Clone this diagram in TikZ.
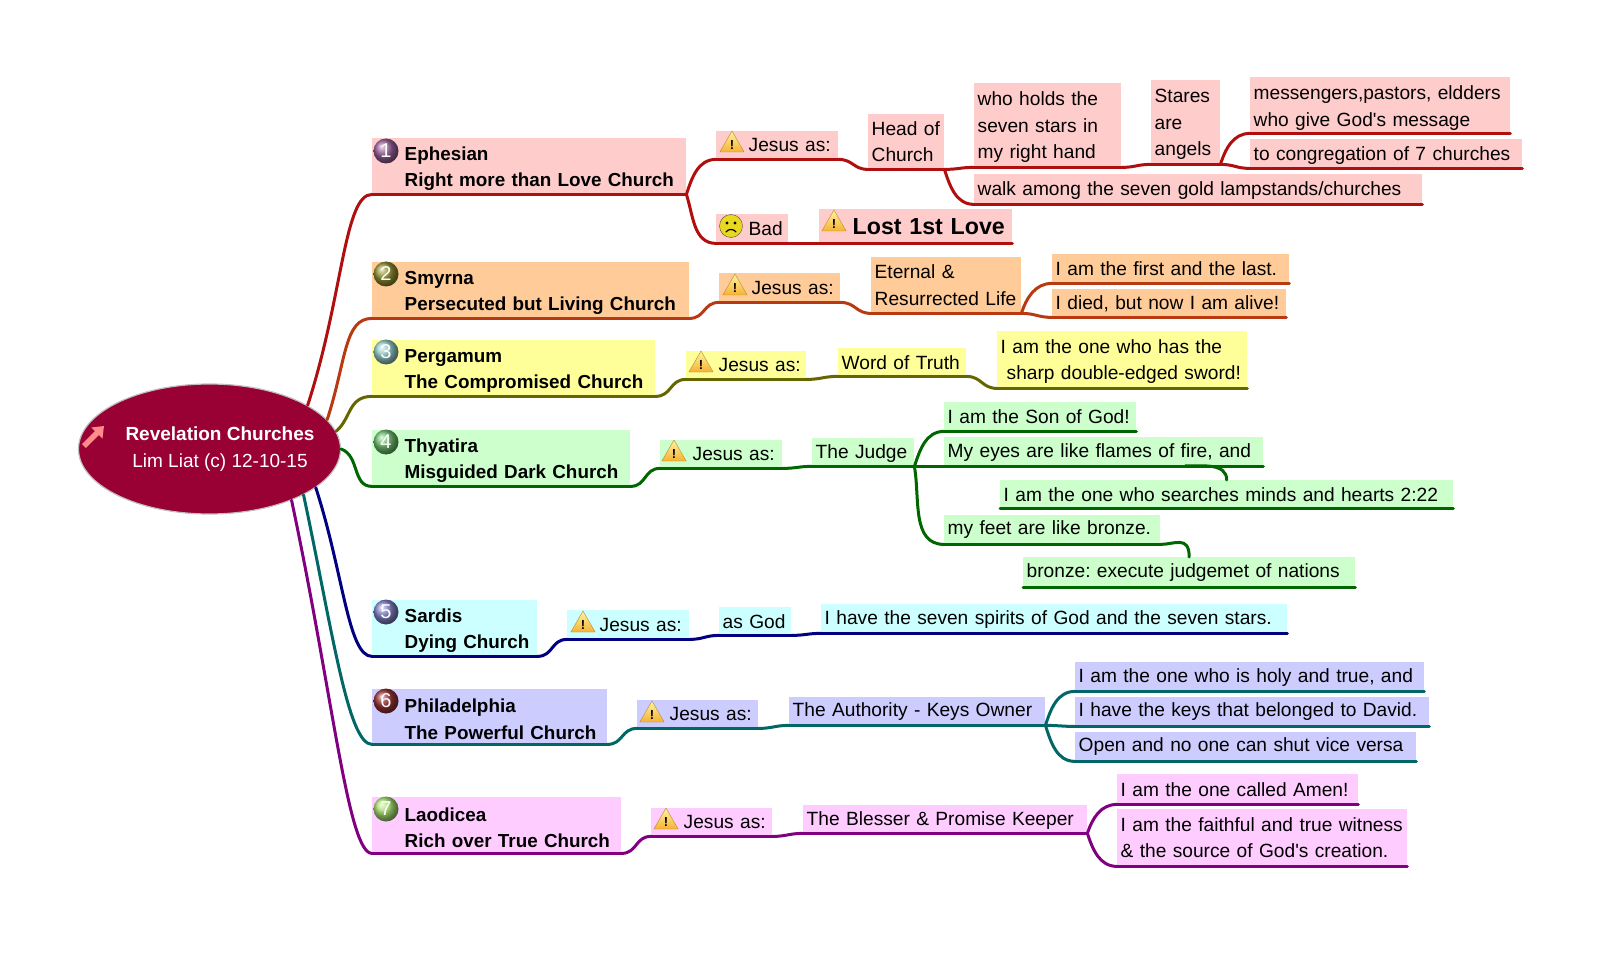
\documentclass[tikz,border=0pt]{standalone}
\usepackage{fontspec}
\setmainfont{Liberation Sans}
\usetikzlibrary{shapes.geometric,arrows.meta}
\definecolor{ephfill}{HTML}{FFCCCC}
\definecolor{smyfill}{HTML}{FFCC99}
\definecolor{perfill}{HTML}{FFFF99}
\definecolor{thyfill}{HTML}{CCFFCC}
\definecolor{sarfill}{HTML}{CCFFFF}
\definecolor{phifill}{HTML}{CCCCFF}
\definecolor{laofill}{HTML}{FFCCFF}
\definecolor{ephline}{HTML}{B00F0F}
\definecolor{smyline}{HTML}{B83A12}
\definecolor{perline}{HTML}{666600}
\definecolor{thyline}{HTML}{006600}
\definecolor{sarline}{HTML}{000080}
\definecolor{philine}{HTML}{006666}
\definecolor{laoline}{HTML}{800080}
\definecolor{rootfill}{HTML}{990033}
\definecolor{warntop}{HTML}{FFF3A0}
\definecolor{warnbottom}{HTML}{F6B233}
\definecolor{warnedge}{HTML}{B98A2A}
\definecolor{sadyellow}{HTML}{E8D820}
\newcommand{\iconskip}{\hspace*{29pt}}
\begin{document}
\frenchspacing
\begin{tikzpicture}[x=1pt,y=-1pt,line cap=round,
    item/.style={anchor=north west,inner xsep=3.5pt,inner ysep=0pt,align=left,font=\fontsize{19.15}{26.5}\selectfont},
    church/.style={item,font=\fontsize{18.85}{26.5}\selectfont\bfseries,lift=19pt},
    lift/.style={execute at begin node={\rule{0pt}{#1}}},
    warnicon/.style={regular polygon,regular polygon sides=3,minimum size=28pt,inner sep=0pt,draw=warnedge,top color=warntop,bottom color=warnbottom,font=\fontsize{13}{13}\selectfont\bfseries},
    numball/.style={circle,minimum size=25pt,inner sep=0pt,text=white,font=\fontsize{20}{20}\selectfont},
    sadface/.style={circle,minimum size=23pt,inner sep=0pt,draw=black!70,fill=sadyellow},
    branch/.style={line width=3pt,out=0,in=180,looseness=1.2},
    fork/.style={out=#1,in=180,looseness=1}]
    \useasboundingbox (0,0) rectangle (1600,957);

    \node[ellipse,minimum width=262pt,minimum height=130pt,inner xsep=-13pt,inner ysep=0pt,fill=rootfill,draw=black!25,line width=1.2pt,text=white,align=center,font=\fontsize{19}{26.5}\selectfont,lift=28pt] (root) at (209.5,449) {\hspace*{21pt}\textbf{Revelation Churches}\\\hspace*{21pt}Lim Liat (c) 12-10-15};
    \coordinate (tail) at (84,446);
    \coordinate (tip) at (104,426);
    \draw[line width=5.5pt,color=red!45,line cap=butt,-{Triangle[width=15pt,length=10pt]}] (tail) -- (tip);

    \node[church,fill=ephfill,text width=307pt,minimum height=56pt] (eph) at (372,138) {\iconskip Ephesian\\\iconskip Right more than Love Church};
    \node[item,fill=ephfill,text width=115pt,minimum height=28pt] (ephjesus) at (716,131) {\iconskip Jesus as:};
    \node[item,fill=ephfill,text width=65pt,minimum height=29pt] (bad) at (716,214) {\iconskip Bad};
    \node[item,fill=ephfill,text width=186pt,minimum height=34pt,font=\fontsize{23.2}{26.5}\selectfont\bfseries] (lost) at (819,209) {\hspace*{30pt}Lost 1st Love};
    \node[item,fill=ephfill,text width=69pt,minimum height=55pt] (head) at (868,114) {Head of\\Church};
    \node[item,fill=ephfill,text width=140pt,minimum height=84pt,lift=18pt] (holds) at (974,83) {who holds the\\seven stars in\\my right hand};
    \node[item,fill=ephfill,text width=62pt,minimum height=84pt,lift=18pt] (stares) at (1151,80) {Stares\\are\\angels};
    \node[item,fill=ephfill,text width=253pt,minimum height=56pt,lift=20pt] (messengers) at (1250,77) {messengers,pastors, eldders\\who give God\textquotesingle s message};
    \node[item,fill=ephfill,text width=265pt,minimum height=29pt,lift=18pt] (congregation) at (1250,139) {to congregation of 7 churches};
    \node[item,fill=ephfill,text width=441pt,minimum height=30pt,lift=16pt] (walk) at (974,174) {walk among the seven gold lampstands/churches};

    \node[church,fill=smyfill,text width=310pt,minimum height=56pt] (smy) at (372,262) {\iconskip Smyrna\\\iconskip Persecuted but Living Church};
    \node[item,fill=smyfill,text width=114pt,minimum height=29pt] (smyjesus) at (719,273) {\iconskip Jesus as:};
    \node[item,fill=smyfill,text width=143pt,minimum height=56pt] (eternal) at (871,257) {Eternal \&\\Resurrected Life};
    \node[item,fill=smyfill,text width=230pt,minimum height=29pt] (first) at (1052,254) {I am the first and the last.};
    \node[item,fill=smyfill,text width=227pt,minimum height=28pt,lift=16pt] (died) at (1052,289) {I died, but now I am alive!};

    \node[church,fill=perfill,text width=276pt,minimum height=56pt] (per) at (372,340) {\iconskip Pergamum\\\iconskip The Compromised Church};
    \node[item,fill=perfill,text width=113pt,minimum height=28pt] (perjesus) at (686,351) {\iconskip Jesus as:};
    \node[item,fill=perfill,text width=121pt,minimum height=28pt] (word) at (838,348) {Word of Truth};
    \node[item,fill=perfill,text width=243pt,minimum height=57pt,lift=18pt] (sword) at (997,331) {I am the one who has the\\\hspace*{6pt}sharp double-edged sword!};

    \node[church,fill=thyfill,text width=251pt,minimum height=56pt] (thy) at (372,430) {\iconskip Thyatira\\\iconskip Misguided Dark Church};
    \node[item,fill=thyfill,text width=115pt,minimum height=28pt] (thyjesus) at (660,440) {\iconskip Jesus as:};
    \node[item,fill=thyfill,text width=95pt,minimum height=28pt,lift=16pt] (judge) at (812,438) {The Judge};
    \node[item,fill=thyfill,text width=185pt,minimum height=29pt] (son) at (944,402) {I am the Son of God!};
    \node[item,fill=thyfill,text width=312pt,minimum height=29pt,lift=16pt] (eyes) at (944,437) {My eyes are like flames of fire, and};
    \node[item,fill=thyfill,text width=446pt,minimum height=28pt] (searches) at (1000,480) {I am the one who searches minds and hearts 2:22};
    \node[item,fill=thyfill,text width=209pt,minimum height=29pt] (feet) at (944,515) {my feet are like bronze.};
    \node[item,fill=thyfill,text width=325pt,minimum height=30pt] (bronze) at (1023,557) {bronze: execute judgemet of nations};

    \node[church,fill=sarfill,text width=158pt,minimum height=56pt,lift=16pt] (sar) at (372,600) {\iconskip Sardis\\\iconskip Dying Church};
    \node[item,fill=sarfill,text width=115pt,minimum height=29pt] (sarjesus) at (567,610) {\iconskip Jesus as:};
    \node[item,fill=sarfill,text width=65pt,minimum height=28pt] (asgod) at (719,607) {as God};
    \node[item,fill=sarfill,text width=459pt,minimum height=29pt,lift=16pt] (spirits) at (821,604) {I have the seven spirits of God and the seven stars.};

    \node[church,fill=phifill,text width=228pt,minimum height=55pt,lift=11pt] (phi) at (372,689) {\iconskip Philadelphia\\\iconskip The Powerful Church};
    \node[item,fill=phifill,text width=114pt,minimum height=28pt] (phijesus) at (637,700) {\iconskip Jesus as:};
    \node[item,fill=phifill,text width=249pt,minimum height=28pt] (keysowner) at (789,697) {The Authority - Keys Owner};
    \node[item,fill=phifill,text width=342pt,minimum height=29pt,lift=16pt] (holy) at (1075,662) {I am the one who is holy and true, and};
    \node[item,fill=phifill,text width=347pt,minimum height=29pt] (keys) at (1075,697) {I have the keys that belonged to David.};
    \node[item,fill=phifill,text width=334pt,minimum height=29pt] (open) at (1075,732) {Open and no one can shut vice versa};

    \node[church,fill=laofill,text width=242pt,minimum height=56pt,lift=11pt] (lao) at (372,797) {\iconskip Laodicea\\\iconskip Rich over True Church};
    \node[item,fill=laofill,text width=114pt,minimum height=28pt] (laojesus) at (651,808) {\iconskip Jesus as:};
    \node[item,fill=laofill,text width=277pt,minimum height=28pt,lift=16pt] (blesser) at (803,805) {The Blesser \& Promise Keeper};
    \node[item,fill=laofill,text width=234pt,minimum height=30pt] (amen) at (1117,774) {I am the one called Amen!};
    \node[item,fill=laofill,text width=283pt,minimum height=57pt] (witness) at (1117,809) {I am the faithful and true witness\\\& the source of God\textquotesingle s creation.};

    \node[numball,ball color=violet!55!gray!80!white] (ball1) at (386,151) {1};
    \node[numball,ball color=olive!45!gray!85!white] (ball2) at (386,274) {2};
    \node[numball,ball color=cyan!35!gray!60!white] (ball3) at (386,352) {3};
    \node[numball,ball color=green!40!gray!80!white] (ball4) at (386,442) {4};
    \node[numball,ball color=blue!40!gray!70!white] (ball5) at (386,612) {5};
    \node[numball,ball color=red!50!gray!80!black] (ball6) at (386,701) {6};
    \node[numball,ball color=olive!50!green!45!white] (ball7) at (386,809) {7};

    \node[warnicon] (warn1) at (732,145) {!};
    \node[warnicon] (warn2) at (834,224) {!};
    \node[warnicon] (warn3) at (735,288) {!};
    \node[warnicon] (warn4) at (701,365) {!};
    \node[warnicon] (warn5) at (674,454) {!};
    \node[warnicon] (warn6) at (583,625) {!};
    \node[warnicon] (warn7) at (652,715) {!};
    \node[warnicon] (warn8) at (666,822) {!};

    \node[sadface] (sad) at (731,226) {};
    \fill ([shift={(-4pt,3pt)}]sad.center) circle (1.6pt);
    \fill ([shift={(4pt,3pt)}]sad.center) circle (1.6pt);
    \draw[line width=1.2pt] ([shift={(-5pt,-6pt)}]sad.center) to[out=60,in=120] ([shift={(5pt,-6pt)}]sad.center);

    \coordinate (eyesfork) at (1185,466);

    \path[branch,draw=ephline]
        (root.24) edge[out=72,in=180,out distance=115pt,in distance=28pt] (eph.south west)
        (eph.south west) edge[out=0,in=180,looseness=0] (eph.south east)
        (eph.south east) edge[fork=72] (ephjesus.south west)
        (eph.south east) edge[fork=-72] (bad.south west)
        (ephjesus.south west) edge (ephjesus.south east)
        (bad.south west) edge (bad.south east)
        (bad.south east) edge (lost.south west)
        (lost.south west) edge (lost.south east)
        (ephjesus.south east) edge (head.south west)
        (head.south west) edge (head.south east)
        (head.south east) edge (holds.south west)
        (head.south east) edge[fork=-72] (walk.south west)
        (walk.south west) edge (walk.south east)
        (holds.south west) edge (holds.south east)
        (holds.south east) edge (stares.south west)
        (stares.south west) edge (stares.south east)
        (stares.south east) edge[fork=72] (messengers.south west)
        (stares.south east) edge (congregation.south west)
        (messengers.south west) edge (messengers.south east)
        (congregation.south west) edge (congregation.south east)
        ;
    \path[branch,draw=smyline]
        (root.14) edge[out=72,in=180,out distance=62pt,in distance=28pt] (smy.south west)
        (smy.south west) edge (smy.south east)
        (smy.south east) edge (smyjesus.south west)
        (smyjesus.south west) edge (smyjesus.south east)
        (smyjesus.south east) edge (eternal.south west)
        (eternal.south west) edge (eternal.south east)
        (eternal.south east) edge[fork=72] (first.south west)
        (eternal.south east) edge (died.south west)
        (first.south west) edge (first.south east)
        (died.south west) edge (died.south east)
        ;
    \path[branch,draw=perline]
        (root.8) edge[out=40,in=180,out distance=20pt,in distance=24pt] (per.south west)
        (per.south west) edge (per.south east)
        (per.south east) edge (perjesus.south west)
        (perjesus.south west) edge (perjesus.south east)
        (perjesus.south east) edge (word.south west)
        (word.south west) edge (word.south east)
        (word.south east) edge (sword.south west)
        (sword.south west) edge (sword.south east)
        ;
    \path[branch,draw=thyline]
        (root.0) edge[out=-20,in=180,out distance=20pt,in distance=20pt] (thy.south west)
        (thy.south west) edge (thy.south east)
        (thy.south east) edge (thyjesus.south west)
        (thyjesus.south west) edge (thyjesus.south east)
        (thyjesus.south east) edge (judge.south west)
        (judge.south west) edge (judge.south east)
        (judge.south east) edge[fork=72] (son.south west)
        (judge.south east) edge (eyes.south west)
        (judge.south east) edge[fork=-80] (feet.south west)
        (son.south west) edge (son.south east)
        (eyes.south west) edge (eyes.south east)
        (eyesfork) edge[out=0,in=90,looseness=1] (searches.north)
        (searches.south west) edge (searches.south east)
        (feet.south west) edge (feet.south east)
        (feet.south east) edge[out=0,in=90,out distance=14pt,in distance=22pt] (bronze.north)
        (bronze.south west) edge (bronze.south east)
        ;
    \path[branch,draw=sarline]
        (root.-20) edge[out=-72,in=180,out distance=90pt,in distance=24pt] (sar.south west)
        (sar.south west) edge (sar.south east)
        (sar.south east) edge (sarjesus.south west)
        (sarjesus.south west) edge (sarjesus.south east)
        (sarjesus.south east) edge (asgod.south west)
        (asgod.south west) edge (asgod.south east)
        (asgod.south east) edge (spirits.south west)
        (spirits.south west) edge (spirits.south east)
        ;
    \path[branch,draw=philine]
        (root.-26) edge[out=-78,in=180,out distance=140pt,in distance=24pt] (phi.south west)
        (phi.south west) edge (phi.south east)
        (phi.south east) edge (phijesus.south west)
        (phijesus.south west) edge (phijesus.south east)
        (phijesus.south east) edge (keysowner.south west)
        (keysowner.south west) edge (keysowner.south east)
        (keysowner.south east) edge[fork=72] (holy.south west)
        (keysowner.south east) edge (keys.south west)
        (keysowner.south east) edge[fork=-72] (open.south west)
        (holy.south west) edge (holy.south east)
        (keys.south west) edge (keys.south east)
        (open.south west) edge (open.south east)
        ;
    \path[branch,draw=laoline]
        (root.-32) edge[out=-78,in=180,out distance=200pt,in distance=24pt] (lao.south west)
        (lao.south west) edge (lao.south east)
        (lao.south east) edge (laojesus.south west)
        (laojesus.south west) edge (laojesus.south east)
        (laojesus.south east) edge (blesser.south west)
        (blesser.south west) edge (blesser.south east)
        (blesser.south east) edge[fork=72] (amen.south west)
        (blesser.south east) edge[fork=-72] (witness.south west)
        (amen.south west) edge (amen.south east)
        (witness.south west) edge (witness.south east)
        ;
\end{tikzpicture}
\end{document}
